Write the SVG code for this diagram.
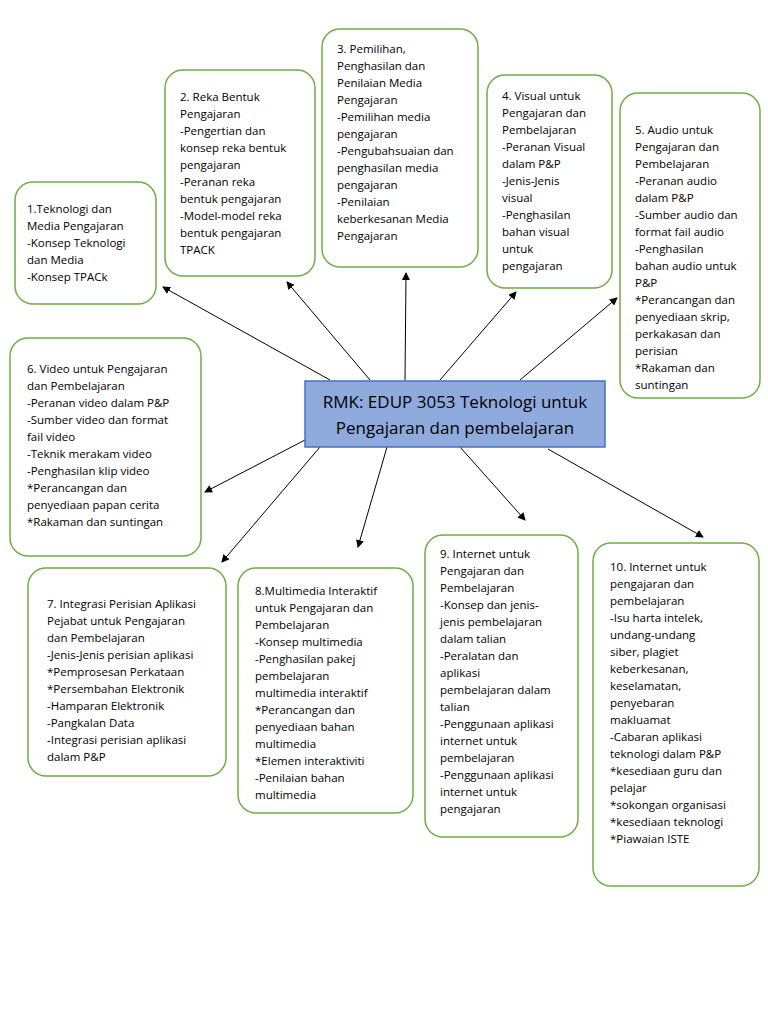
<svg xmlns="http://www.w3.org/2000/svg" width="768" height="1024" viewBox="0 0 768 1024">
<style>
.b{fill:#fff;stroke:#70ad47;stroke-width:1.5}
text{font-family:"Open Sans","Liberation Sans",sans-serif;font-size:11.5px;fill:#000}
.c{font-size:17px}
.l{stroke:#000;stroke-width:1;marker-end:url(#a)}
</style>
<defs><marker id="a" markerWidth="8" markerHeight="8" refX="7" refY="4" orient="auto" markerUnits="userSpaceOnUse"><path d="M0,0L8,4L0,8z" fill="#000"/></marker></defs>
<rect width="768" height="1024" fill="#fff"/>
<g id="connectors">
<line class="l" x1="330" y1="380" x2="163" y2="287"/>
<line class="l" x1="370" y1="380" x2="287" y2="282"/>
<line class="l" x1="405" y1="380" x2="406" y2="273"/>
<line class="l" x1="440" y1="380" x2="516" y2="292"/>
<line class="l" x1="520" y1="380" x2="617" y2="298"/>
<line class="l" x1="305" y1="440" x2="205" y2="492"/>
<line class="l" x1="320" y1="447" x2="222" y2="562"/>
<line class="l" x1="387" y1="447" x2="358" y2="547"/>
<line class="l" x1="460" y1="447" x2="525" y2="520"/>
<line class="l" x1="548" y1="449" x2="703" y2="537"/>
</g>
<g id="center"><rect x="305" y="381" width="300" height="66" fill="#8faadc" stroke="#4472c4" stroke-width="1.5"/>
<text class="c" x="455" y="408" text-anchor="middle">RMK: EDUP 3053 Teknologi untuk</text>
<text class="c" x="455" y="434" text-anchor="middle">Pengajaran dan pembelajaran</text></g>
<g id="n1"><rect class="b" x="15" y="182" width="141" height="122" rx="18"/>
<text x="27" y="213">1.Teknologi dan</text><text x="27" y="230">Media Pengajaran</text><text x="27" y="247">-Konsep Teknologi</text><text x="27" y="264">dan Media</text><text x="27" y="281">-Konsep TPACk</text></g>
<g id="n2"><rect class="b" x="165" y="70" width="150" height="206" rx="18"/>
<text x="180" y="101">2. Reka Bentuk</text><text x="180" y="118">Pengajaran</text><text x="180" y="135">-Pengertian dan</text><text x="180" y="152">konsep reka bentuk</text><text x="180" y="169">pengajaran</text><text x="180" y="186">-Peranan reka</text><text x="180" y="203">bentuk pengajaran</text><text x="180" y="220">-Model-model reka</text><text x="180" y="237">bentuk pengajaran</text><text x="180" y="254">TPACK</text></g>
<g id="n3"><rect class="b" x="322" y="29" width="156" height="238" rx="18"/>
<text x="337" y="53">3. Pemilihan,</text><text x="337" y="70">Penghasilan dan</text><text x="337" y="87">Penilaian Media</text><text x="337" y="104">Pengajaran</text><text x="337" y="121">-Pemilihan media</text><text x="337" y="138">pengajaran</text><text x="337" y="155">-Pengubahsuaian dan</text><text x="337" y="172">penghasilan media</text><text x="337" y="189">pengajaran</text><text x="337" y="206">-Penilaian</text><text x="337" y="223">keberkesanan Media</text><text x="337" y="240">Pengajaran</text></g>
<g id="n4"><rect class="b" x="487" y="75" width="125" height="213" rx="18"/>
<text x="502" y="100">4. Visual untuk</text><text x="502" y="117">Pengajaran dan</text><text x="502" y="134">Pembelajaran</text><text x="502" y="151">-Peranan Visual</text><text x="502" y="168">dalam P&amp;P</text><text x="502" y="185">-Jenis-Jenis</text><text x="502" y="202">visual</text><text x="502" y="219">-Penghasilan</text><text x="502" y="236">bahan visual</text><text x="502" y="253">untuk</text><text x="502" y="270">pengajaran</text></g>
<g id="n5"><rect class="b" x="620" y="93" width="140" height="305" rx="18"/>
<text x="635" y="134">5. Audio untuk</text><text x="635" y="151">Pengajaran dan</text><text x="635" y="168">Pembelajaran</text><text x="635" y="185">-Peranan audio</text><text x="635" y="202">dalam P&amp;P</text><text x="635" y="219">-Sumber audio dan</text><text x="635" y="236">format fail audio</text><text x="635" y="253">-Penghasilan</text><text x="635" y="270">bahan audio untuk</text><text x="635" y="287">P&amp;P</text><text x="635" y="304">*Perancangan dan</text><text x="635" y="321">penyediaan skrip,</text><text x="635" y="338">perkakasan dan</text><text x="635" y="355">perisian</text><text x="635" y="372">*Rakaman dan</text><text x="635" y="389">suntingan</text></g>
<g id="n6"><rect class="b" x="10" y="338" width="191" height="218" rx="18"/>
<text x="27" y="373">6. Video untuk Pengajaran</text><text x="27" y="390">dan Pembelajaran</text><text x="27" y="407">-Peranan video dalam P&amp;P</text><text x="27" y="424">-Sumber video dan format</text><text x="27" y="441">fail video</text><text x="27" y="458">-Teknik merakam video</text><text x="27" y="475">-Penghasilan klip video</text><text x="27" y="492">*Perancangan dan</text><text x="27" y="509">penyediaan papan cerita</text><text x="27" y="526">*Rakaman dan suntingan</text></g>
<g id="n7"><rect class="b" x="28" y="568" width="198" height="208" rx="18"/>
<text x="47" y="608">7. Integrasi Perisian Aplikasi</text><text x="47" y="625">Pejabat untuk Pengajaran</text><text x="47" y="642">dan Pembelajaran</text><text x="47" y="659">-Jenis-Jenis perisian aplikasi</text><text x="47" y="676">*Pemprosesan Perkataan</text><text x="47" y="693">*Persembahan Elektronik</text><text x="47" y="710">-Hamparan Elektronik</text><text x="47" y="727">-Pangkalan Data</text><text x="47" y="744">-Integrasi perisian aplikasi</text><text x="47" y="761">dalam P&amp;P</text></g>
<g id="n8"><rect class="b" x="238" y="568" width="175" height="245" rx="18"/>
<text x="255" y="595">8.Multimedia Interaktif</text><text x="255" y="612">untuk Pengajaran dan</text><text x="255" y="629">Pembelajaran</text><text x="255" y="646">-Konsep multimedia</text><text x="255" y="663">-Penghasilan pakej</text><text x="255" y="680">pembelajaran</text><text x="255" y="697">multimedia interaktif</text><text x="255" y="714">*Perancangan dan</text><text x="255" y="731">penyediaan bahan</text><text x="255" y="748">multimedia</text><text x="255" y="765">*Elemen interaktiviti</text><text x="255" y="782">-Penilaian bahan</text><text x="255" y="799">multimedia</text></g>
<g id="n9"><rect class="b" x="425" y="535" width="153" height="302" rx="18"/>
<text x="440" y="558">9. Internet untuk</text><text x="440" y="575">Pengajaran dan</text><text x="440" y="592">Pembelajaran</text><text x="440" y="609">-Konsep dan jenis-</text><text x="440" y="626">jenis pembelajaran</text><text x="440" y="643">dalam talian</text><text x="440" y="660">-Peralatan dan</text><text x="440" y="677">aplikasi</text><text x="440" y="694">pembelajaran dalam</text><text x="440" y="711">talian</text><text x="440" y="728">-Penggunaan aplikasi</text><text x="440" y="745">internet untuk</text><text x="440" y="762">pembelajaran</text><text x="440" y="779">-Penggunaan aplikasi</text><text x="440" y="796">internet untuk</text><text x="440" y="813">pengajaran</text></g>
<g id="n10"><rect class="b" x="593" y="543" width="166" height="343" rx="18"/>
<text x="610" y="571">10. Internet untuk</text><text x="610" y="588">pengajaran dan</text><text x="610" y="605">pembelajaran</text><text x="610" y="622">-Isu harta intelek,</text><text x="610" y="639">undang-undang</text><text x="610" y="656">siber, plagiet</text><text x="610" y="673">keberkesanan,</text><text x="610" y="690">keselamatan,</text><text x="610" y="707">penyebaran</text><text x="610" y="724">makluamat</text><text x="610" y="741">-Cabaran aplikasi</text><text x="610" y="758">teknologi dalam P&amp;P</text><text x="610" y="775">*kesediaan guru dan</text><text x="610" y="792">pelajar</text><text x="610" y="809">*sokongan organisasi</text><text x="610" y="826">*kesediaan teknologi</text><text x="610" y="843">*Piawaian ISTE</text></g>
</svg>
